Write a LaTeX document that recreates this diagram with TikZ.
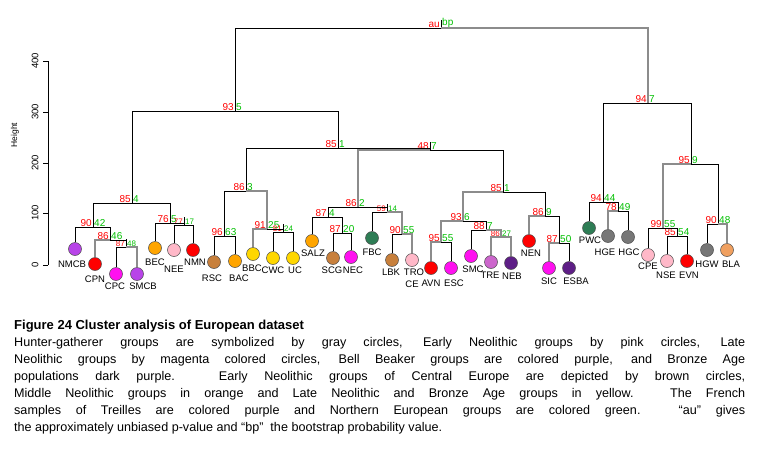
\documentclass[tikz,border=0pt]{standalone}
\usepackage{fontspec}
\setmainfont{Liberation Sans}
\begin{document}
\begin{tikzpicture}[x=1pt,y=-1pt,
  br/.style={draw=black,line width=0.7pt},
  gb/.style={draw=gray!90,line width=1.8pt},
  lf/.style={circle,draw=black!70,line width=0.5pt,minimum size=13pt,inner sep=0pt},
  lbl/.style={font=\fontsize{9.5}{10}\selectfont,inner sep=0pt},
  au/.style={font=\fontsize{10}{11}\selectfont,text=red,inner sep=0.5pt,anchor=south east},
  bp/.style={font=\fontsize{10}{11}\selectfont,text=green!75!black,inner sep=0.5pt,anchor=south west}]
\useasboundingbox (0,0) rectangle (758,450);
\definecolor{cpur}{HTML}{B844E8}\definecolor{cmag}{HTML}{FF10F0}
\definecolor{cora}{HTML}{FFA500}\definecolor{cpink}{HTML}{FFB8C8}
\definecolor{cbrn}{HTML}{C8803C}\definecolor{cgold}{HTML}{FFD700}
\definecolor{cdg}{HTML}{2E7D55}\definecolor{cdp}{HTML}{5E1E86}
\definecolor{cgr}{HTML}{777777}\definecolor{clo}{HTML}{F0A060}
\definecolor{corc}{HTML}{CC66CC}
% axis
\draw[line width=0.6pt] (48,265) -- (48,61);
\foreach \v/\yy in {0/265,100/213,200/163,300/112,400/61}{
  \draw[line width=0.6pt] (43,\yy) -- (48,\yy);
  \node[lbl,rotate=90] at (35,\yy) {\v};}
\node[lbl,rotate=90,font=\fontsize{8.5}{9}\selectfont] (ht) at (15,135) {Height};
% internal nodes
\newcommand\inn[5]{\coordinate (#1) at (#2,#3);
  \draw[line width=0.6pt] (#1) -- ++(0,-8);
  \node[au] at ([xshift=-0.5pt]#1) {#4};\node[bp] at ([xshift=0.5pt]#1) {#5};}
\newcommand\leaf[6]{\node[lf,fill=#4] (#1) at (#2,#3) {};
  \node[lbl,font=\fontsize{9.5}{11}\selectfont] (#1l) at (#5,#6) {#1};}
\newcommand\sm[1]{{\fontsize{8}{9}\selectfont #1}}
% leaves
\leaf{NMCB}{75}{249}{cpur}{72}{264}
\leaf{CPN}{95}{264}{red}{95}{279}
\leaf{CPC}{116}{274}{cmag}{115}{286}
\leaf{SMCB}{137}{274}{cpur}{143}{286}
\leaf{BEC}{155}{248}{cora}{155}{262}
\leaf{NEE}{174}{250}{cpink}{174}{269}
\leaf{NMN}{193}{250}{red}{195}{262}
\leaf{RSC}{214}{262}{cbrn}{212}{278}
\leaf{BAC}{235}{261}{cora}{239}{278}
\leaf{BBC}{253}{254}{cgold}{252}{268}
\leaf{CWC}{273}{258}{cgold}{273}{270}
\leaf{UC}{293}{258}{cgold}{295}{270}
\leaf{SALZ}{312}{241}{cora}{313}{253}
\leaf{SCG}{333}{258}{cbrn}{332}{270}
\leaf{NEC}{351}{257}{cmag}{353}{270}
\leaf{FBC}{372}{238}{cdg}{372}{252}
\leaf{LBK}{392}{260}{cbrn}{391}{272}
\leaf{TRO}{412}{260}{cpink}{414}{272}
\node[lbl,font=\fontsize{9.5}{11}\selectfont] (CE) at (412,284) {CE};
\leaf{AVN}{431}{268}{red}{431}{283}
\leaf{ESC}{451}{268}{cmag}{454}{283}
\leaf{SMC}{471}{256}{cmag}{473}{269}
\leaf{TRE}{491}{262}{corc}{490}{275}
\leaf{NEB}{511}{263}{cdp}{512}{276}
\leaf{NEN}{529}{241}{red}{531}{253}
\leaf{SIC}{549}{268}{cmag}{549}{281}
\leaf{ESBA}{569}{268}{cdp}{576}{281}
\leaf{PWC}{589}{228}{cdg}{590}{240}
\leaf{HGE}{608}{236}{cgr}{605}{252}
\leaf{HGC}{628}{237}{cgr}{629}{252}
\leaf{CPE}{648}{255}{cpink}{648}{266}
\leaf{NSE}{667}{261}{cpink}{666}{275}
\leaf{EVN}{687}{261}{red}{689}{275}
\leaf{HGW}{707}{250}{cgr}{707}{264}
\leaf{BLA}{727}{250}{clo}{731}{264}
% internal
\inn{root}{441}{28}{au}{bp}
\inn{n935}{235}{111}{93}{5}
\inn{n854}{132}{203}{85}{4}
\inn{n9042}{93}{227}{90}{42}
\inn{n8646}{110}{240}{86}{46}
\inn{n8748}{126}{247}{\sm{87}}{\sm{48}}
\inn{n765}{170}{223}{76}{5}
\inn{n7717}{184}{225}{\sm{77}}{\sm{17}}
\inn{n851a}{338}{148}{85}{1}
\inn{n863}{246}{191}{86}{3}
\inn{n9663}{224}{236}{96}{63}
\inn{n9125}{267}{229}{91}{25}
\inn{n8124}{283}{232}{\sm{81}}{\sm{24}}
\inn{n487}{430}{150}{48}{7}
\inn{n862}{358}{207}{86}{2}
\inn{n874}{328}{217}{87}{4}
\inn{n8720}{342}{233}{87}{20}
\inn{n5914}{387}{212}{\sm{59}}{\sm{14}}
\inn{n9055}{402}{234}{90}{55}
\inn{n851b}{503}{192}{85}{1}
\inn{n936}{463}{221}{93}{6}
\inn{n9555}{441}{242}{95}{55}
\inn{n887}{486}{230}{88}{7}
\inn{n8627}{501}{237}{\sm{86}}{\sm{27}}
\inn{n869}{545}{216}{86}{9}
\inn{n8750}{559}{243}{87}{50}
\inn{n947}{648}{103}{94}{7}
\inn{n9444}{603}{202}{94}{44}
\inn{n7849}{618}{211}{78}{49}
\inn{n959}{691}{164}{95}{9}
\inn{n9955}{663}{228}{99}{55}
\inn{n8554}{677}{236}{85}{54}
\inn{n9048}{718}{224}{90}{48}
% edges
\draw[br] (root) -| (n935); \draw[gb] (root) -| (n947);
\draw[br] (n935) -| (n854); \draw[br] (n935) -| (n851a);
\draw[br] (n854) -| (n9042); \draw[br] (n854) -| (n765);
\draw[br] (n9042) -| (NMCB); \draw[br] (n9042) -| (n8646);
\draw[gb] (n8646) -| (CPN); \draw[br] (n8646) -| (n8748);
\draw[br] (n8748) -| (CPC); \draw[gb] (n8748) -| (SMCB);
\draw[br] (n765) -| (BEC); \draw[br] (n765) -| (n7717);
\draw[br] (n7717) -| (NEE); \draw[br] (n7717) -| (NMN);
\draw[br] (n851a) -| (n863); \draw[br] (n851a) -| (n487);
\draw[br] (n863) -| (n9663); \draw[gb] (n863) -| (n9125);
\draw[br] (n9663) -| (RSC); \draw[br] (n9663) -| (BAC);
\draw[gb] (n9125) -| (BBC); \draw[br] (n9125) -| (n8124);
\draw[br] (n8124) -| (CWC); \draw[br] (n8124) -| (UC);
\draw[gb] (n487) -| (n862); \draw[br] (n487) -| (n851b);
\draw[br] (n862) -| (n874); \draw[br] (n862) -| (n5914);
\draw[br] (n874) -| (SALZ); \draw[br] (n874) -| (n8720);
\draw[br] (n8720) -| (SCG); \draw[br] (n8720) -| (NEC);
\draw[br] (n5914) -| (FBC); \draw[gb] (n5914) -| (n9055);
\draw[br] (n9055) -| (LBK); \draw[gb] (n9055) -| (TRO);
\draw[gb] (n851b) -| (n936); \draw[br] (n851b) -| (n869);
\draw[gb] (n936) -| (n9555); \draw[br] (n936) -| (n887);
\draw[gb] (n9555) -| (AVN); \draw[br] (n9555) -| (ESC);
\draw[br] (n887) -| (SMC); \draw[gb] (n887) -| (n8627);
\draw[gb] (n8627) -| (TRE); \draw[gb] (n8627) -| (NEB);
\draw[gb] (n869) -| (NEN); \draw[br] (n869) -| (n8750);
\draw[gb] (n8750) -| (SIC); \draw[br] (n8750) -| (ESBA);
\draw[br] (n947) -| (n9444); \draw[br] (n947) -| (n959);
\draw[br] (n9444) -| (PWC); \draw[br] (n9444) -| (n7849);
\draw[gb] (n7849) -| (HGE); \draw[br] (n7849) -| (HGC);
\draw[gb] (n959) -| (n9955); \draw[br] (n959) -| (n9048);
\draw[br] (n9955) -| (CPE); \draw[br] (n9955) -| (n8554);
\draw[br] (n8554) -| (NSE); \draw[br] (n8554) -| (EVN);
\draw[br] (n9048) -| (HGW); \draw[gb] (n9048) -| (BLA);
% caption
\node[anchor=north west,inner sep=0pt,font=\bfseries\fontsize{13}{15}\selectfont] (cap) at (14,320) {Figure 24 Cluster analysis of European dataset};
\newcommand\capline[1]{\makebox[731pt][s]{#1}}
\node[anchor=north west,inner sep=0pt,align=left,font=\fontsize{12.6}{17}\selectfont] (txt) at (14,337) {%
\capline{Hunter-gatherer groups are symbolized by gray circles, Early Neolithic groups by pink circles, Late}\\
\capline{Neolithic groups by magenta colored circles, Bell Beaker groups are colored purple, and Bronze Age}\\
\capline{populations dark purple. Early Neolithic groups of Central Europe are depicted by brown circles,}\\
\capline{Middle Neolithic groups in orange and Late Neolithic and Bronze Age groups in yellow. The French}\\
\capline{samples of Treilles are colored purple and Northern European groups are colored green. “au” gives}\\
the approximately unbiased p-value and “bp”\ \ the bootstrap probability value.};
\end{tikzpicture}
\end{document}
